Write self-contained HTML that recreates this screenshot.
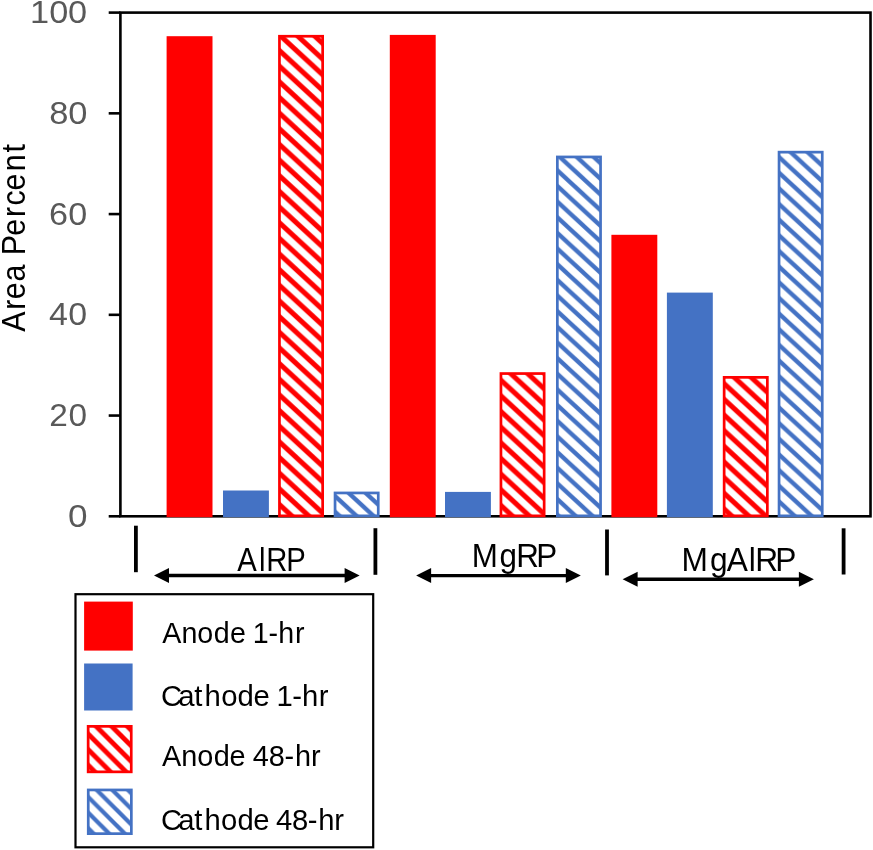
<!DOCTYPE html><html><head><meta charset="utf-8"><title>Area Percent chart</title><style>html,body{margin:0;padding:0;background:#fff;overflow:hidden;}svg{display:block;filter:blur(0.45px);}text{font-family:"Liberation Sans",Arial,sans-serif;}</style></head><body>
<svg width="873" height="850" viewBox="0 0 873 850">
<defs>
<pattern id="p2" patternUnits="userSpaceOnUse" width="16.98" height="15.655" patternTransform="translate(220.897,0)"><rect width="16.98" height="15.655" fill="#fff"/><polygon points="0,0 7.471,0 16.98,8.767 16.98,15.655" fill="#FF0000"/><polygon points="0,8.767 7.471,15.655 0,15.655" fill="#FF0000"/></pattern>
<pattern id="p3" patternUnits="userSpaceOnUse" width="16.98" height="15.655" patternTransform="translate(-206.225,0)"><rect width="16.98" height="15.655" fill="#fff"/><polygon points="0,0 6.452,0 16.98,9.706 16.98,15.655" fill="#4472C4"/><polygon points="0,9.706 6.452,15.655 0,15.655" fill="#4472C4"/></pattern>
<pattern id="p6" patternUnits="userSpaceOnUse" width="16.98" height="15.655" patternTransform="translate(67.855,0)"><rect width="16.98" height="15.655" fill="#fff"/><polygon points="0,0 7.471,0 16.98,8.767 16.98,15.655" fill="#FF0000"/><polygon points="0,8.767 7.471,15.655 0,15.655" fill="#FF0000"/></pattern>
<pattern id="p7" patternUnits="userSpaceOnUse" width="16.98" height="15.655" patternTransform="translate(369.350,0)"><rect width="16.98" height="15.655" fill="#fff"/><polygon points="0,0 6.452,0 16.98,9.706 16.98,15.655" fill="#4472C4"/><polygon points="0,9.706 6.452,15.655 0,15.655" fill="#4472C4"/></pattern>
<pattern id="p10" patternUnits="userSpaceOnUse" width="16.98" height="15.655" patternTransform="translate(287.259,0)"><rect width="16.98" height="15.655" fill="#fff"/><polygon points="0,0 7.471,0 16.98,8.767 16.98,15.655" fill="#FF0000"/><polygon points="0,8.767 7.471,15.655 0,15.655" fill="#FF0000"/></pattern>
<pattern id="p11" patternUnits="userSpaceOnUse" width="16.98" height="15.655" patternTransform="translate(588.438,0)"><rect width="16.98" height="15.655" fill="#fff"/><polygon points="0,0 6.452,0 16.98,9.706 16.98,15.655" fill="#4472C4"/><polygon points="0,9.706 6.452,15.655 0,15.655" fill="#4472C4"/></pattern>
<pattern id="pL3" patternUnits="userSpaceOnUse" width="15.6" height="15.6" patternTransform="translate(-649.232,0)"><rect width="15.6" height="15.6" fill="#fff"/><polygon points="0,0 6.864,0 15.6,8.736 15.6,15.6" fill="#FF0000"/><polygon points="0,8.736 6.864,15.6 0,15.6" fill="#FF0000"/></pattern>
<pattern id="pL4" patternUnits="userSpaceOnUse" width="15.6" height="15.6" patternTransform="translate(-711.764,0)"><rect width="15.6" height="15.6" fill="#fff"/><polygon points="0,0 5.928,0 15.6,9.672 15.6,15.6" fill="#4472C4"/><polygon points="0,9.672 5.928,15.6 0,15.6" fill="#4472C4"/></pattern>
</defs>
<rect width="873" height="850" fill="#fff"/>
<rect x="120.4" y="12.6" width="750.1" height="503.7" fill="none" stroke="#000" stroke-width="2.6"/>
<line x1="108.7" y1="12.60" x2="120.4" y2="12.60" stroke="#000" stroke-width="2.6"/>
<line x1="108.7" y1="113.34" x2="120.4" y2="113.34" stroke="#000" stroke-width="2.6"/>
<line x1="108.7" y1="214.08" x2="120.4" y2="214.08" stroke="#000" stroke-width="2.6"/>
<line x1="108.7" y1="314.82" x2="120.4" y2="314.82" stroke="#000" stroke-width="2.6"/>
<line x1="108.7" y1="415.56" x2="120.4" y2="415.56" stroke="#000" stroke-width="2.6"/>
<line x1="108.7" y1="516.30" x2="120.4" y2="516.30" stroke="#000" stroke-width="2.6"/>
<rect x="166.6" y="36.2" width="45.9" height="481.00" fill="#FF0000"/>
<rect x="223.0" y="490.5" width="45.9" height="26.70" fill="#4472C4"/>
<rect x="279.45" y="36.25" width="43.20" height="479.60" fill="url(#p2)" stroke="#FF0000" stroke-width="2.7"/>
<rect x="335.05" y="492.95" width="43.20" height="22.90" fill="url(#p3)" stroke="#4472C4" stroke-width="2.7"/>
<rect x="389.8" y="34.9" width="45.9" height="482.30" fill="#FF0000"/>
<rect x="445.0" y="491.9" width="45.9" height="25.30" fill="#4472C4"/>
<rect x="500.95" y="373.55" width="43.20" height="142.30" fill="url(#p6)" stroke="#FF0000" stroke-width="2.7"/>
<rect x="557.35" y="156.95" width="43.20" height="358.90" fill="url(#p7)" stroke="#4472C4" stroke-width="2.7"/>
<rect x="611.4" y="234.8" width="45.9" height="282.40" fill="#FF0000"/>
<rect x="666.9" y="292.6" width="45.9" height="224.60" fill="#4472C4"/>
<rect x="724.15" y="377.35" width="43.20" height="138.50" fill="url(#p10)" stroke="#FF0000" stroke-width="2.7"/>
<rect x="779.05" y="152.15" width="43.20" height="363.70" fill="url(#p11)" stroke="#4472C4" stroke-width="2.7"/>
<text transform="translate(0,571.20) scale(0.9030,1)" x="262.83 286.92 294.97 316.90" y="0" font-size="32.4" fill="#000">AlRP</text>
<text transform="translate(0,567.40) scale(0.9682,1)" x="487.36 516.01 533.14 553.87" y="0" font-size="32.4" fill="#000">MgRP</text>
<text transform="translate(0,571.20) scale(0.9780,1)" x="696.73 726.06 743.23 765.71 772.33 792.65" y="0" font-size="32.4" fill="#000">MgAlRP</text>
<text transform="translate(0,643.00) scale(1.0020,1)" x="161.87 181.05 196.99 213.37 229.45 245.35 252.13 268.04 277.81 294.32" y="0" font-size="28.6" fill="#000">Anode 1-hr</text>
<text transform="translate(0,705.80) scale(1.0245,1)" x="157.23 174.01 189.57 199.74 215.91 231.80 247.42 263.32 269.94 285.28 294.86 311.12" y="0" font-size="28.6" fill="#000">Cathode 1-hr</text>
<text transform="translate(0,765.60) scale(1.0092,1)" x="160.49 179.59 195.42 211.69 227.50 243.40 250.55 266.31 282.04 292.41 308.22" y="0" font-size="28.6" fill="#000">Anode 48-hr</text>
<text transform="translate(0,829.80) scale(1.0215,1)" x="157.63 174.45 190.04 200.26 216.47 232.41 247.83 263.73 270.21 285.83 301.36 311.56 327.27" y="0" font-size="28.6" fill="#000">Cathode 48-hr</text>
<text transform="translate(0,23.10) scale(1.0719,1)" x="27.93 46.05 63.50" y="0" font-size="32" fill="#595959">100</text>
<text transform="translate(0,123.84) scale(1.0788,1)" x="45.61 63.17" y="0" font-size="32" fill="#595959">80</text>
<text transform="translate(0,224.58) scale(1.0676,1)" x="45.98 63.93" y="0" font-size="32" fill="#595959">60</text>
<text transform="translate(0,325.32) scale(1.0603,1)" x="46.28 64.43" y="0" font-size="32" fill="#595959">40</text>
<text transform="translate(0,426.06) scale(1.0435,1)" x="47.21 65.61" y="0" font-size="32" fill="#595959">20</text>
<text transform="translate(0,526.80) scale(1.0983,1)" x="61.85" y="0" font-size="32" fill="#595959">0</text>
<text transform="translate(24.7,0) rotate(-90) scale(0.9128,1)" x="-363.50 -339.32 -327.99 -308.41 -289.89 -279.68 -258.36 -237.65 -225.19 -208.73 -187.54 -166.96" y="0" font-size="33.3" fill="#000">Area Percent</text>
<line x1="135.9" y1="525.7" x2="135.9" y2="572.2" stroke="#000" stroke-width="3.8"/>
<line x1="375.4" y1="528.2" x2="375.4" y2="574.8" stroke="#000" stroke-width="3.8"/>
<line x1="607.0" y1="529.5" x2="607.0" y2="575.4" stroke="#000" stroke-width="3.8"/>
<line x1="843.6" y1="528.3" x2="843.6" y2="574.5" stroke="#000" stroke-width="3.8"/>
<line x1="168.0" y1="575.5" x2="345.6" y2="575.5" stroke="#000" stroke-width="3.4"/>
<polygon points="154.0,575.5 169.0,568.0 169.0,583.0" fill="#000"/>
<polygon points="359.6,575.5 344.6,568.0 344.6,583.0" fill="#000"/>
<line x1="430.1" y1="575.6" x2="566.8" y2="575.6" stroke="#000" stroke-width="3.4"/>
<polygon points="416.1,575.6 431.1,568.1 431.1,583.1" fill="#000"/>
<polygon points="580.8,575.6 565.8,568.1 565.8,583.1" fill="#000"/>
<line x1="636.6" y1="579.3" x2="799.9" y2="579.3" stroke="#000" stroke-width="3.4"/>
<polygon points="622.6,579.3 637.6,571.8 637.6,586.8" fill="#000"/>
<polygon points="813.9,579.3 798.9,571.8 798.9,586.8" fill="#000"/>
<rect x="75.5" y="594.2" width="297.7" height="253.1" fill="none" stroke="#000" stroke-width="2.2"/>
<rect x="84.1" y="601.6" width="48.7" height="49" fill="#FF0000"/>
<rect x="84.1" y="663.5" width="48.5" height="47" fill="#4472C4"/>
<rect x="88.14999999999999" y="726.35" width="43.099999999999994" height="45.5" fill="url(#pL3)" stroke="#FF0000" stroke-width="2.7"/>
<rect x="88.25" y="789.95" width="43.099999999999994" height="43.699999999999996" fill="url(#pL4)" stroke="#4472C4" stroke-width="2.7"/>
</svg></body></html>
